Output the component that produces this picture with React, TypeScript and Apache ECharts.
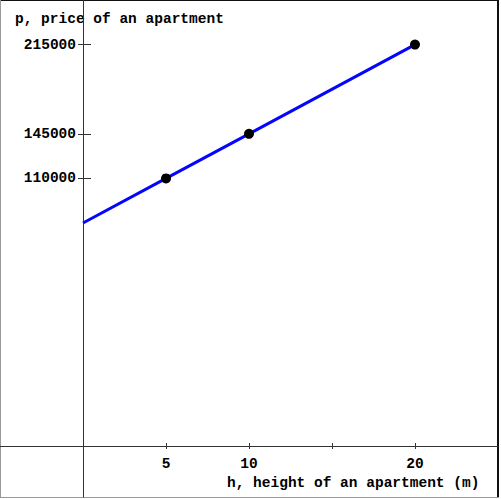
import React, { useEffect, useRef } from 'react';
import * as echarts from 'echarts';

// h (m) -> p (price)
const heights = [0, 5, 10, 20];
const prices = [75000, 110000, 145000, 215000];
const xTickValues = [5, 10, 15, 20];
const xLabelValues = [5, 10, 20];
const yTickValues = [110000, 145000, 215000];
const yTitle = 'p, price of an apartment';
const xTitle = 'h, height of an apartment (m)';

const FONT = '"Liberation Mono", "DejaVu Sans Mono", monospace';
const AXIS_COLOR = '#333';

const App: React.FC = () => {
  const chartRef = useRef<HTMLDivElement>(null);

  useEffect(() => {
    if (!chartRef.current) return;
    const chart = echarts.init(chartRef.current, undefined, { renderer: 'svg' });

    const labelStyle = {
      fontFamily: FONT,
      fontWeight: 'bold' as const,
      fontSize: 14.5,
      color: '#000'
    };

    const xBase = {
      type: 'value' as const,
      min: -5,
      max: 25,
      position: 'bottom' as const,
      offset: -51,
      splitLine: { show: false }
    };
    const yBase = {
      type: 'value' as const,
      min: -140000,
      max: 250000,
      position: 'left' as const,
      offset: -83,
      splitLine: { show: false }
    };

    const option: echarts.EChartsOption = {
      animation: false,
      grid: { left: 0, top: 0, width: 498, height: 497, containLabel: false },
      xAxis: [
        {
          ...xBase,
          axisLine: { onZero: false, lineStyle: { color: AXIS_COLOR, width: 1 } },
          axisTick: { customValues: xTickValues, length: 3, lineStyle: { color: AXIS_COLOR } },
          axisLabel: { customValues: xLabelValues, margin: 10, formatter: (v: number) => String(v), ...labelStyle }
        },
        {
          ...xBase,
          axisLine: { show: false, onZero: false },
          axisTick: { customValues: xTickValues, inside: true, length: 3, lineStyle: { color: AXIS_COLOR } },
          axisLabel: { show: false }
        }
      ],
      yAxis: [
        {
          ...yBase,
          axisLine: { onZero: false, lineStyle: { color: AXIS_COLOR, width: 1 } },
          axisTick: { customValues: yTickValues, length: 5, lineStyle: { color: AXIS_COLOR } },
          axisLabel: { customValues: yTickValues, margin: 7, formatter: (v: number) => String(v), ...labelStyle }
        },
        {
          ...yBase,
          axisLine: { show: false, onZero: false },
          axisTick: { customValues: yTickValues, inside: true, length: 8, lineStyle: { color: AXIS_COLOR } },
          axisLabel: { show: false }
        }
      ],
      series: [
        {
          type: 'line',
          xAxisIndex: 0,
          yAxisIndex: 0,
          symbol: 'circle',
          showSymbol: true,
          lineStyle: { color: '#0505ff', width: 3 },
          itemStyle: { color: '#000' },
          data: heights.map((h, i) => ({
            value: [h, prices[i]],
            symbolSize: i === 0 ? 0 : 10
          }))
        }
      ],
      graphic: [
        {
          type: 'text',
          x: 15,
          y: 19,
          style: { text: yTitle, font: `bold 14.5px ${FONT}`, fill: '#000', verticalAlign: 'middle' }
        },
        {
          type: 'text',
          x: 227,
          y: 483,
          style: { text: xTitle, font: `bold 14.5px ${FONT}`, fill: '#000', verticalAlign: 'middle' }
        },
        { type: 'line', shape: { x1: 0, y1: 0.5, x2: 499, y2: 0.5 }, style: { stroke: '#111', lineWidth: 1 } },
        { type: 'line', shape: { x1: 498, y1: 0, x2: 498, y2: 498 }, style: { stroke: '#111', lineWidth: 2 } },
        { type: 'line', shape: { x1: 0.5, y1: 0, x2: 0.5, y2: 498 }, style: { stroke: '#999', lineWidth: 1 } },
        { type: 'line', shape: { x1: 0, y1: 497.5, x2: 499, y2: 497.5 }, style: { stroke: '#999', lineWidth: 1 } }
      ]
    };

    chart.setOption(option);
    return () => chart.dispose();
  }, []);

  return (
    <div
      ref={chartRef}
      style={{ position: 'fixed', left: 0, top: 0, width: 501, height: 499, background: '#fff' }}
    />
  );
};

export default App;
